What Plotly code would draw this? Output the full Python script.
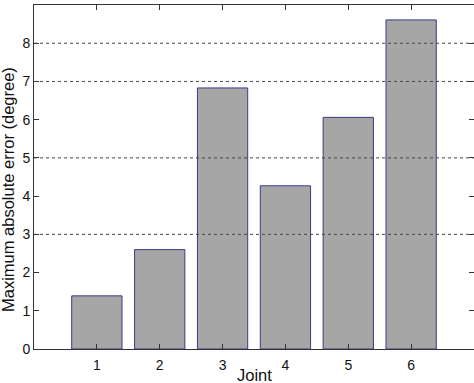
import plotly.graph_objects as go

joints = [1, 2, 3, 4, 5, 6]
max_abs_error = [1.39, 2.60, 6.83, 4.27, 6.06, 8.61]
y_ticks = [0, 1, 2, 3, 4, 5, 6, 7, 8, 9]
grid_values = [3, 5, 7, 8]

fig = go.Figure()
fig.add_trace(go.Bar(
    x=joints, y=max_abs_error, width=0.8,
    marker=dict(color="#a6a6a6", line=dict(color="#3a3a8a", width=1)),
))

for g in grid_values:
    fig.add_shape(type="line", xref="paper", yref="y", x0=0, x1=1, y0=g, y1=g,
                  line=dict(color="#444444", width=1, dash="dot"), layer="above")

family = "Liberation Sans, Arial, sans-serif"
tick_font = dict(family=family, size=14, color="#111111")
title_font = dict(family=family, size=16.5, color="#111111")

fig.add_annotation(text="Maximum absolute error (degree)", xref="paper", yref="paper",
                   x=0, y=0.5, xanchor="center", yanchor="middle", xshift=-26, yshift=-13,
                   textangle=-90, showarrow=False, font=title_font)
fig.add_annotation(text="Joint", xref="paper", yref="paper",
                   x=0.5, y=0, xanchor="center", yanchor="top", yshift=-15,
                   showarrow=False, font=title_font)

fig.update_layout(
    width=474, height=383,
    margin=dict(l=34, r=0, t=5, b=34),
    paper_bgcolor="white", plot_bgcolor="white",
    showlegend=False, font=tick_font,
    xaxis=dict(range=[0, 7], tickvals=joints, ticks="inside", ticklen=5, tickcolor="#333",
               showline=True, linecolor="#333", linewidth=1, mirror="ticks",
               showgrid=False, zeroline=False, automargin=False, tickfont=tick_font,
               ticklabelstandoff=3),
    yaxis=dict(range=[0, 9], tickvals=y_ticks, ticks="inside", ticklen=5, tickcolor="#333",
               showline=True, linecolor="#333", linewidth=1, mirror="ticks",
               showgrid=False, zeroline=False, automargin=False, tickfont=tick_font),
)
fig.write_html("out.html", config={"displayModeBar": False},
               post_script="document.body.style.margin='0';")
